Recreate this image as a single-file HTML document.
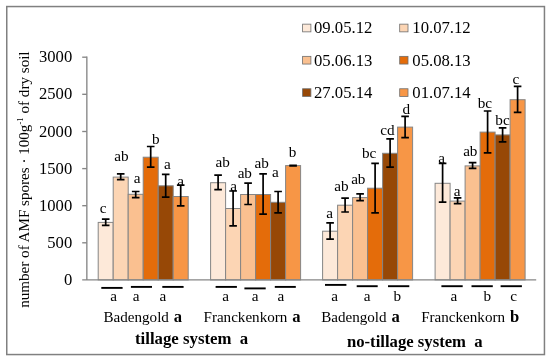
<!DOCTYPE html>
<html><head><meta charset="utf-8"><title>AMF spores chart</title>
<style>html,body{margin:0;padding:0;background:#fff}body{width:550px;height:362px;overflow:hidden}</style></head>
<body>
<svg width="550" height="362" viewBox="0 0 550 362" style="display:block">
<rect x="0" y="0" width="550" height="362" fill="#fff"/>
<rect x="6.75" y="6.55" width="537.7" height="348.0" fill="none" stroke="#808080" stroke-width="1.5"/>
<rect x="98.2" y="222.4" width="15.0" height="57.5" fill="#FDE9D9" stroke="#858585" stroke-width="1"/>
<rect x="113.2" y="177.1" width="15.0" height="102.8" fill="#FCD5B4" stroke="#858585" stroke-width="1"/>
<rect x="128.2" y="194.3" width="15.0" height="85.6" fill="#FAC090" stroke="#858585" stroke-width="1"/>
<rect x="143.2" y="157.2" width="15.0" height="122.7" fill="#E46C0A" stroke="#858585" stroke-width="1"/>
<rect x="158.2" y="185.8" width="15.0" height="94.1" fill="#974806" stroke="#858585" stroke-width="1"/>
<rect x="173.2" y="196.5" width="15.0" height="83.4" fill="#F79646" stroke="#858585" stroke-width="1"/>
<rect x="210.6" y="182.7" width="15.0" height="97.2" fill="#FDE9D9" stroke="#858585" stroke-width="1"/>
<rect x="225.6" y="208.5" width="15.0" height="71.4" fill="#FCD5B4" stroke="#858585" stroke-width="1"/>
<rect x="240.6" y="194.5" width="15.0" height="85.4" fill="#FAC090" stroke="#858585" stroke-width="1"/>
<rect x="255.6" y="194.5" width="15.0" height="85.4" fill="#E46C0A" stroke="#858585" stroke-width="1"/>
<rect x="270.6" y="202.3" width="15.0" height="77.6" fill="#974806" stroke="#858585" stroke-width="1"/>
<rect x="285.6" y="165.6" width="15.0" height="114.3" fill="#F79646" stroke="#858585" stroke-width="1"/>
<rect x="322.6" y="231.2" width="15.0" height="48.7" fill="#FDE9D9" stroke="#858585" stroke-width="1"/>
<rect x="337.6" y="205.2" width="15.0" height="74.7" fill="#FCD5B4" stroke="#858585" stroke-width="1"/>
<rect x="352.6" y="197.6" width="15.0" height="82.3" fill="#FAC090" stroke="#858585" stroke-width="1"/>
<rect x="367.6" y="188.2" width="15.0" height="91.7" fill="#E46C0A" stroke="#858585" stroke-width="1"/>
<rect x="382.6" y="153.3" width="15.0" height="126.6" fill="#974806" stroke="#858585" stroke-width="1"/>
<rect x="397.6" y="127.1" width="15.0" height="152.8" fill="#F79646" stroke="#858585" stroke-width="1"/>
<rect x="435.1" y="183.3" width="15.0" height="96.6" fill="#FDE9D9" stroke="#858585" stroke-width="1"/>
<rect x="450.1" y="201.1" width="15.0" height="78.8" fill="#FCD5B4" stroke="#858585" stroke-width="1"/>
<rect x="465.1" y="165.9" width="15.0" height="114.0" fill="#FAC090" stroke="#858585" stroke-width="1"/>
<rect x="480.1" y="132.1" width="15.0" height="147.8" fill="#E46C0A" stroke="#858585" stroke-width="1"/>
<rect x="495.1" y="134.9" width="15.0" height="145.0" fill="#974806" stroke="#858585" stroke-width="1"/>
<rect x="510.1" y="99.7" width="15.0" height="180.2" fill="#F79646" stroke="#858585" stroke-width="1"/>
<g stroke="#868686" stroke-width="1.35" fill="none">
<line x1="86.85" y1="56.6" x2="86.85" y2="279.9"/>
<line x1="82.2" y1="279.9" x2="536.2" y2="279.9"/>
<line x1="82.2" y1="242.8" x2="86.85" y2="242.8"/>
<line x1="82.2" y1="205.7" x2="86.85" y2="205.7"/>
<line x1="82.2" y1="168.6" x2="86.85" y2="168.6"/>
<line x1="82.2" y1="131.5" x2="86.85" y2="131.5"/>
<line x1="82.2" y1="94.3" x2="86.85" y2="94.3"/>
<line x1="82.2" y1="57.2" x2="86.85" y2="57.2"/>
</g>
<g stroke="#000" stroke-width="1.7" fill="none">
<path d="M105.7 219.1V225.4M101.9 219.1H109.5M101.9 225.4H109.5"/>
<path d="M120.7 173.9V179.6M116.9 173.9H124.5M116.9 179.6H124.5"/>
<path d="M135.7 191.5V197.7M131.9 191.5H139.5M131.9 197.7H139.5"/>
<path d="M150.7 146.5V167.1M146.9 146.5H154.5M146.9 167.1H154.5"/>
<path d="M165.7 174.4V197.2M161.9 174.4H169.5M161.9 197.2H169.5"/>
<path d="M180.7 185.2V205.8M176.9 185.2H184.5M176.9 205.8H184.5"/>
<path d="M218.1 175.1V189.7M214.3 175.1H221.9M214.3 189.7H221.9"/>
<path d="M233.1 191.0V225.9M229.3 191.0H236.9M229.3 225.9H236.9"/>
<path d="M248.1 183.2V204.5M244.3 183.2H251.9M244.3 204.5H251.9"/>
<path d="M263.1 173.9V214.1M259.3 173.9H266.9M259.3 214.1H266.9"/>
<path d="M278.1 191.5V212.8M274.3 191.5H281.9M274.3 212.8H281.9"/>
<path d="M293.1 165.4V165.8M289.3 165.4H296.9M289.3 165.8H296.9"/>
<path d="M330.1 222.8V239.1M326.3 222.8H333.9M326.3 239.1H333.9"/>
<path d="M345.1 198.1V212.0M341.3 198.1H348.9M341.3 212.0H348.9"/>
<path d="M360.1 193.9V200.7M356.3 193.9H363.9M356.3 200.7H363.9"/>
<path d="M375.1 163.3V212.9M371.3 163.3H378.9M371.3 212.9H378.9"/>
<path d="M390.1 138.9V167.1M386.3 138.9H393.9M386.3 167.1H393.9"/>
<path d="M405.1 116.3V137.7M401.3 116.3H408.9M401.3 137.7H408.9"/>
<path d="M442.6 163.4V202.1M438.8 163.4H446.4M438.8 202.1H446.4"/>
<path d="M457.6 197.8V203.6M453.8 197.8H461.4M453.8 203.6H461.4"/>
<path d="M472.6 162.7V168.4M468.8 162.7H476.4M468.8 168.4H476.4"/>
<path d="M487.6 111.0V152.8M483.8 111.0H491.4M483.8 152.8H491.4"/>
<path d="M502.6 127.8V141.8M498.8 127.8H506.4M498.8 141.8H506.4"/>
<path d="M517.6 86.4V112.3M513.8 86.4H521.4M513.8 112.3H521.4"/>
</g>
<g font-family="'Liberation Serif', serif" fill="#000">
<text x="72.2" y="285.0" font-size="16.6" text-anchor="end">0</text>
<text x="72.2" y="247.9" font-size="16.6" text-anchor="end">500</text>
<text x="72.2" y="210.8" font-size="16.6" text-anchor="end">1000</text>
<text x="72.2" y="173.7" font-size="16.6" text-anchor="end">1500</text>
<text x="72.2" y="136.6" font-size="16.6" text-anchor="end">2000</text>
<text x="72.2" y="99.4" font-size="16.6" text-anchor="end">2500</text>
<text x="72.2" y="62.3" font-size="16.6" text-anchor="end">3000</text>
<g font-size="15.2" text-anchor="middle">
<text x="103.2" y="213.3">c</text>
<text x="121.5" y="160.5">ab</text>
<text x="137.0" y="183.2">a</text>
<text x="155.8" y="144.0">b</text>
<text x="167.3" y="169.3">a</text>
<text x="180.6" y="185.7">a</text>
<text x="222.7" y="166.8">ab</text>
<text x="233.5" y="190.7">a</text>
<text x="244.8" y="177.6">ab</text>
<text x="261.6" y="168.1">ab</text>
<text x="275.4" y="176.9">a</text>
<text x="292.5" y="156.8">b</text>
<text x="329.6" y="218.1">a</text>
<text x="341.5" y="190.5">ab</text>
<text x="358.3" y="184.3">ab</text>
<text x="369.1" y="158.0">bc</text>
<text x="387.4" y="134.9">cd</text>
<text x="406.3" y="114.3">d</text>
<text x="441.6" y="163.2">a</text>
<text x="457.2" y="196.3">a</text>
<text x="470.3" y="155.6">ab</text>
<text x="484.9" y="108.2">bc</text>
<text x="502.5" y="124.5">bc</text>
<text x="515.8" y="83.6">c</text>
<text x="113.6" y="301.4">a</text>
<text x="136.2" y="301.4">a</text>
<text x="162.8" y="301.4">a</text>
<text x="225.6" y="301.4">a</text>
<text x="255.2" y="301.4">a</text>
<text x="280.8" y="301.4">a</text>
<text x="334.6" y="301.4">a</text>
<text x="367.2" y="301.4">a</text>
<text x="397.3" y="301.4">b</text>
<text x="453.9" y="301.4">a</text>
<text x="487.3" y="301.4">b</text>
<text x="513.6" y="301.4">c</text>
</g>
<text x="103.5" y="321.8" font-size="15.1" xml:space="preserve">Badengold <tspan font-weight="bold" font-size="16.6" dx="1.1">a</tspan></text>
<text x="203.5" y="321.8" font-size="15.1" xml:space="preserve">Franckenkorn <tspan font-weight="bold" font-size="16.6" dx="1.1">a</tspan></text>
<text x="321.2" y="321.8" font-size="15.1" xml:space="preserve">Badengold <tspan font-weight="bold" font-size="16.6" dx="1.1">a</tspan></text>
<text x="421.2" y="321.8" font-size="15.1" xml:space="preserve">Franckenkorn <tspan font-weight="bold" font-size="16.6" dx="1.1">b</tspan></text>
<text x="135.0" y="343.9" font-size="16.8" font-weight="bold" xml:space="preserve">tillage system  a</text>
<text x="346.9" y="347.4" font-size="16.7" font-weight="bold" xml:space="preserve">no-tillage system  a</text>
<text transform="translate(28.5 307.8) rotate(-90)" font-size="15.1" xml:space="preserve">number of AMF spores · 100g<tspan font-size="8.8" dy="-5.2">-1</tspan><tspan dy="5.2"> of dry soil</tspan></text>
<rect x="302.6" y="24.15" width="8.3" height="7.7" fill="#FDE9D9" stroke="#6e6e6e" stroke-width="0.8"/>
<text x="314.0" y="33.3" font-size="16.7">09.05.12</text>
<rect x="399.7" y="24.15" width="8.3" height="7.7" fill="#FCD5B4" stroke="#6e6e6e" stroke-width="0.8"/>
<text x="412.3" y="33.3" font-size="16.7">10.07.12</text>
<rect x="302.6" y="56.35" width="8.3" height="7.7" fill="#FAC090" stroke="#6e6e6e" stroke-width="0.8"/>
<text x="314.0" y="65.5" font-size="16.7">05.06.13</text>
<rect x="399.7" y="56.35" width="8.3" height="7.7" fill="#E46C0A" stroke="#6e6e6e" stroke-width="0.8"/>
<text x="412.3" y="65.5" font-size="16.7">05.08.13</text>
<rect x="302.6" y="88.75" width="8.3" height="7.7" fill="#974806" stroke="#6e6e6e" stroke-width="0.8"/>
<text x="314.0" y="97.9" font-size="16.7">27.05.14</text>
<rect x="399.7" y="88.75" width="8.3" height="7.7" fill="#F79646" stroke="#6e6e6e" stroke-width="0.8"/>
<text x="412.3" y="97.9" font-size="16.7">01.07.14</text>
</g>
<g stroke="#000" stroke-width="1.9">
<line x1="101.3" y1="287.9" x2="122.6" y2="287.9"/>
<line x1="130.9" y1="286.9" x2="152.0" y2="286.9"/>
<line x1="162.3" y1="286.9" x2="183.6" y2="286.9"/>
<line x1="215.6" y1="286.9" x2="236.9" y2="286.9"/>
<line x1="244.4" y1="288.4" x2="265.7" y2="288.4"/>
<line x1="274.8" y1="286.9" x2="295.8" y2="286.9"/>
<line x1="325.0" y1="284.9" x2="346.4" y2="284.9"/>
<line x1="356.7" y1="286.2" x2="377.7" y2="286.2"/>
<line x1="388.0" y1="286.2" x2="409.3" y2="286.2"/>
<line x1="441.4" y1="286.2" x2="462.7" y2="286.2"/>
<line x1="471.5" y1="286.2" x2="492.8" y2="286.2"/>
<line x1="500.6" y1="286.2" x2="521.9" y2="286.2"/>
</g>
</svg>
</body></html>
